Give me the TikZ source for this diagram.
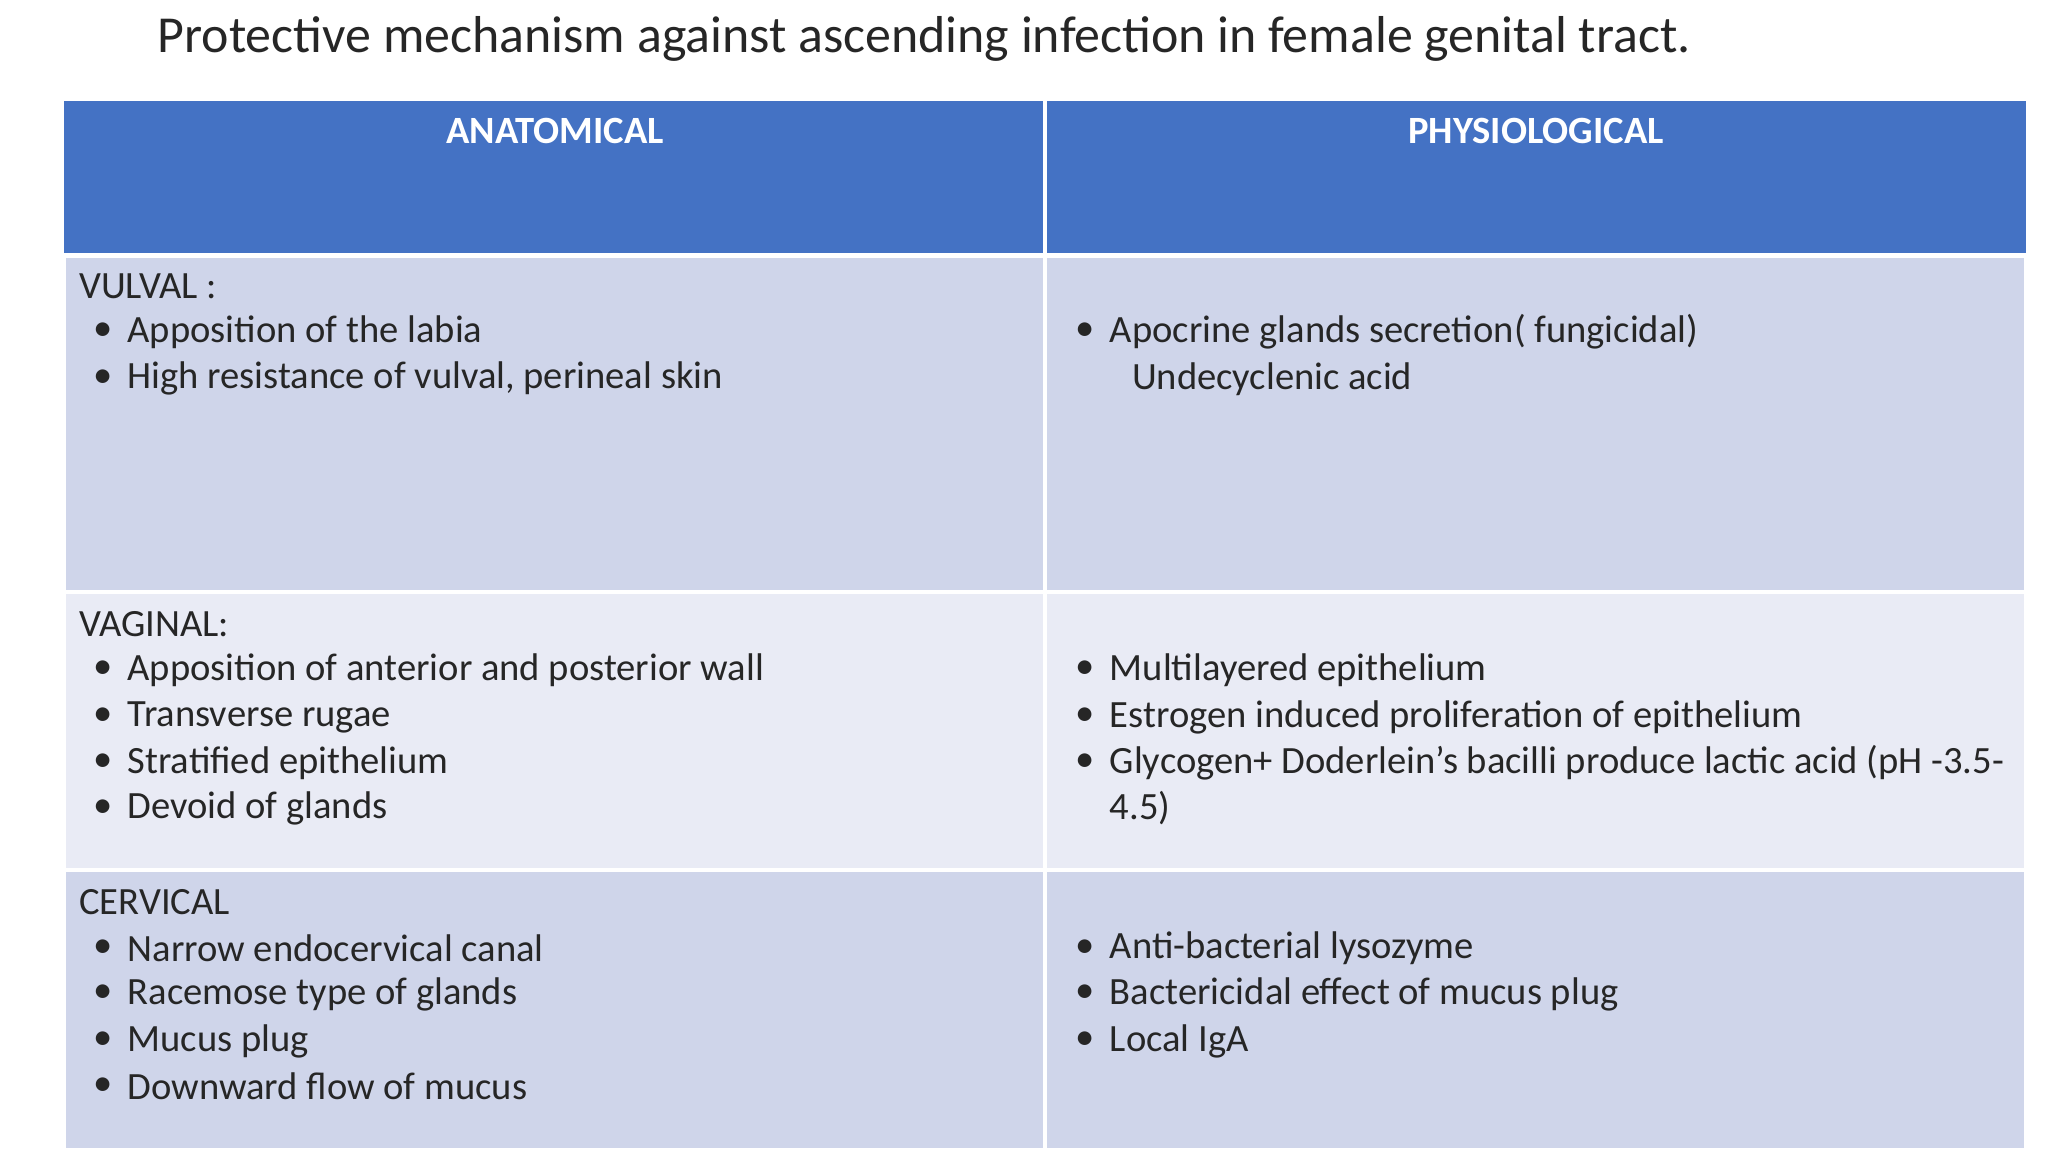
\documentclass[tikz,border=0pt]{standalone}
\usepackage{fontspec}
\setmainfont{Carlito}
\definecolor{hdr}{HTML}{4472C4}
\definecolor{rowa}{HTML}{CFD5EA}
\definecolor{rowb}{HTML}{E9EBF5}
\begin{document}
\begin{tikzpicture}[x=0.01cm,y=-0.01cm,
  txt/.style={anchor=west,inner sep=0pt,font=\fontsize{8.4}{10}\selectfont,text=black!85},
  hd/.style={anchor=center,inner sep=0pt,font=\fontsize{8.4}{10}\selectfont\bfseries,text=white},
  cell/.style={draw=white,line width=0.8pt}]
\useasboundingbox[fill=white] (0,0) rectangle (1568,882);
\node[anchor=west,inner sep=0pt,font=\fontsize{11.3}{13}\selectfont,text=black!85] (title) at (120,30) {Protective mechanism against ascending infection in female genital tract.};
% cells
\fill[hdr] (49,77) rectangle (1551,194);
\draw[white,line width=0.8pt] (800,77) -- (800,194);
\fill[rowa,cell] (49,196) rectangle (800,453);
\fill[rowa,cell] (800,196) rectangle (1551,453);
\fill[rowb,cell] (49,453) rectangle (800,666);
\fill[rowb,cell] (800,453) rectangle (1551,666);
\fill[rowa,cell] (49,666) rectangle (800,880);
\fill[rowa,cell] (800,666) rectangle (1551,880);
\node[hd] (h1) at (425,100) {ANATOMICAL};
\node[hd] (h2) at (1176,100) {PHYSIOLOGICAL};
% left column
\node[txt] (v0) at (60,219) {VULVAL :};
\foreach \t/\y [count=\i] in {Apposition of the labia/254, {High resistance of vulval, perineal skin}/290}{
  \node[txt] (vb\i) at (60,\y) {\hspace*{3pt}•}; \node[txt] (vt\i) at (97,\y) {\t};}
\node[txt] (g0) at (60,478) {VAGINAL:};
\foreach \t/\y [count=\i] in {Apposition of anterior and posterior wall/513, Transverse rugae/549, Stratified epithelium/584, Devoid of glands/619}{
  \node[txt] (gb\i) at (60,\y) {\hspace*{3pt}•}; \node[txt] (gt\i) at (97,\y) {\t};}
\node[txt] (c0) at (60,691) {CERVICAL};
\foreach \t/\y [count=\i] in {Narrow endocervical canal/726, Racemose type of glands/761, Mucus plug/797, Downward flow of mucus/832}{
  \node[txt] (cb\i) at (60,\y) {\hspace*{3pt}•}; \node[txt] (ct\i) at (97,\y) {\t};}
% right column
\node[txt] (pb1) at (812,254) {\hspace*{3pt}•};
\node[txt] (pt1) at (849,254) {Apocrine glands secretion( fungicidal)};
\node[txt] (pt2) at (866,290) {Undecyclenic acid};
\foreach \t/\y [count=\i] in {Multilayered epithelium/513, Estrogen induced proliferation of epithelium/549, {Glycogen+ Doderlein’s bacilli produce lactic acid (pH -3.5-}/584}{
  \node[txt] (qb\i) at (812,\y) {\hspace*{3pt}•}; \node[txt] (qt\i) at (849,\y) {\t};}
\node[txt] (qt4) at (849,619) {4.5)};
\foreach \t/\y [count=\i] in {Anti-bacterial lysozyme/726, Bactericidal effect of mucus plug/761, Local IgA/797}{
  \node[txt] (rb\i) at (812,\y) {\hspace*{3pt}•}; \node[txt] (rt\i) at (849,\y) {\t};}
\end{tikzpicture}
\end{document}
